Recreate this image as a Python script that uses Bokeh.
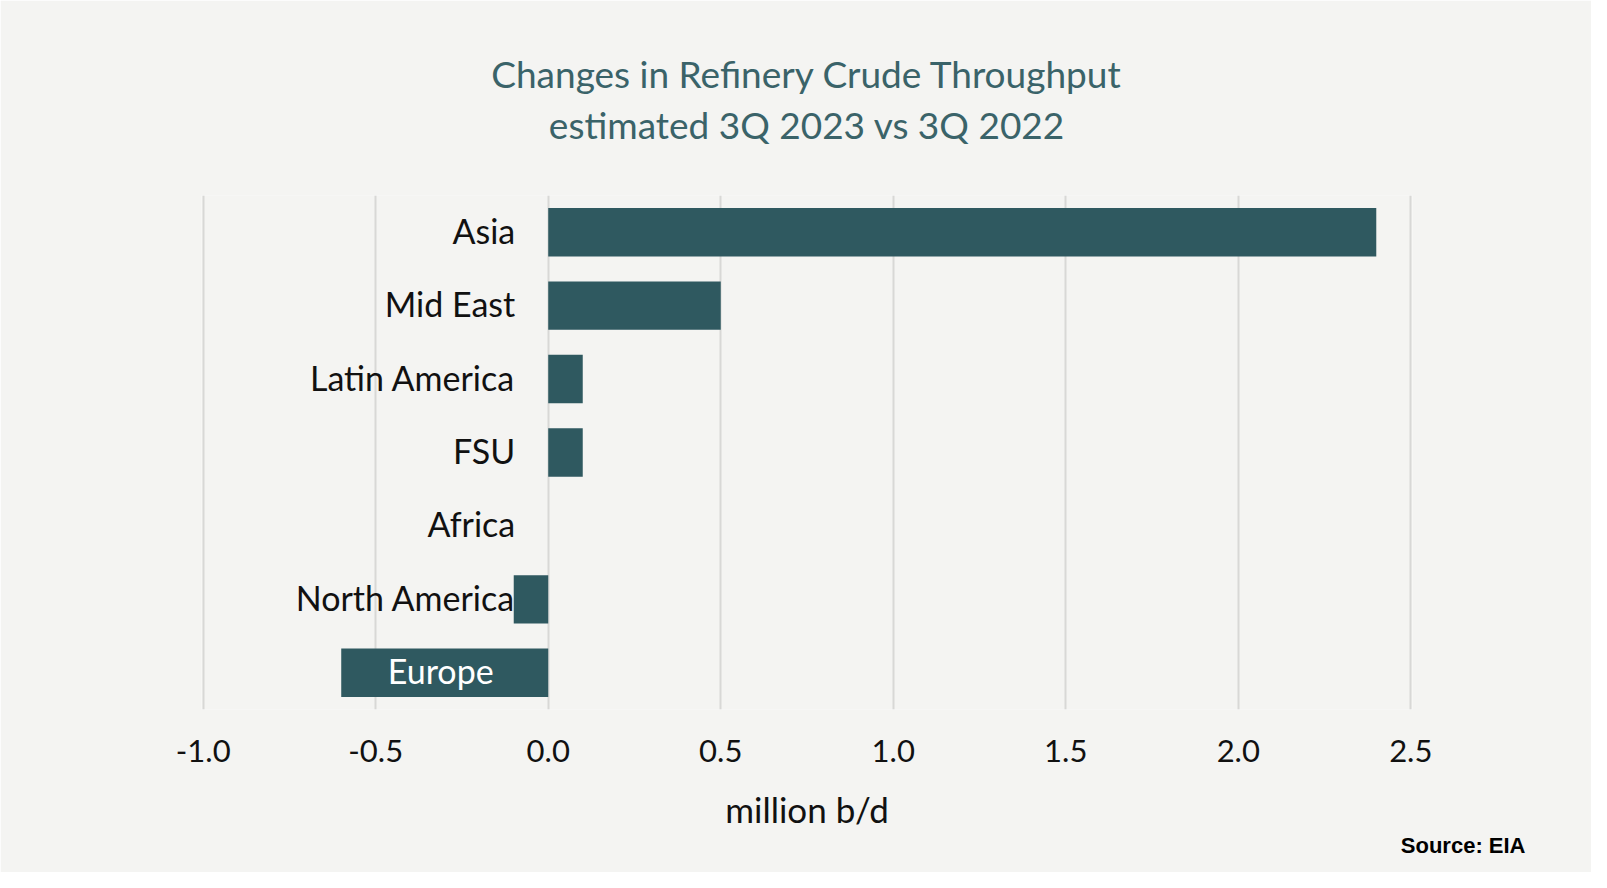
from bokeh.plotting import figure
from bokeh.models import Range1d, Title, FixedTicker, NumeralTickFormatter, ColumnDataSource
from bokeh.core.properties import value
from bokeh.embed import file_html
from bokeh.resources import INLINE

regions = ["Asia", "Mid East", "Latin America", "FSU", "Africa", "North America", "Europe"]
changes = [2.4, 0.5, 0.1, 0.1, 0.0, -0.1, -0.6]
x_ticks = [-1.0, -0.5, 0.0, 0.5, 1.0, 1.5, 2.0, 2.5]
title_lines = ["Changes in Refinery Crude Throughput", "estimated 3Q 2023 vs 3Q 2022"]
x_label = "million b/d"
source_note = "Source: EIA"

BG = "#f4f4f2"
BAR = "#2f5960"
TITLE_C = "#3a6369"
FONT = "Lato"

W, H = 1591, 872
p = figure(width=W, height=H, y_range=list(reversed(regions)), x_range=Range1d(-1.005, 2.505),
           output_backend="svg", toolbar_location=None, y_axis_location=None,
           min_border_left=201, min_border_right=179, min_border_top=195, min_border_bottom=163)
p.background_fill_color = BG
p.border_fill_color = BG
p.outline_line_color = None

src = ColumnDataSource(dict(region=regions, change=changes))
p.hbar(y="region", left=0, right="change", height=0.66, color=BAR, line_color=None, source=src)

# category labels: outside bars at the zero line, or inside (white) for long negative bars
inside = [c <= -0.3 for c in changes]
out_src = ColumnDataSource(dict(region=[r for r, i in zip(regions, inside) if not i],
                                x=[0.0 for i in inside if not i]))
in_src = ColumnDataSource(dict(region=[r for r, i in zip(regions, inside) if i],
                               x=[c / 2 for c, i in zip(changes, inside) if i]))
p.text(x="x", y="region", text="region", source=out_src, x_offset=-33, y_offset=-2,
       text_align="right", text_baseline="middle", text_font=value(FONT),
       text_font_size="34px", text_color="#111111")
p.text(x="x", y="region", text="region", source=in_src, x_offset=-4, y_offset=-2,
       text_align="center", text_baseline="middle", text_font=value(FONT),
       text_font_size="34px", text_color="#ffffff")

p.xgrid.grid_line_color = "#d8d8d6"
p.xgrid.grid_line_width = 2
p.ygrid.grid_line_color = None
p.xgrid.ticker = FixedTicker(ticks=x_ticks)

ax = p.xaxis[0]
ax.ticker = FixedTicker(ticks=x_ticks)
ax.formatter = NumeralTickFormatter(format="0.0")
ax.axis_line_color = None
ax.major_tick_line_color = None
ax.minor_tick_line_color = None
ax.major_label_text_font = FONT
ax.major_label_text_font_size = "31px"
ax.major_label_text_color = "#111111"
ax.major_label_standoff = 24
ax.axis_label = x_label
ax.axis_label_text_font = FONT
ax.axis_label_text_font_style = "normal"
ax.axis_label_text_font_size = "35px"
ax.axis_label_text_color = "#111111"
ax.axis_label_standoff = 23

# above panels stack outward from the plot: spacer, then title line 2, then title line 1
p.add_layout(Title(text=" ", text_font_size="1px", standoff=41), "above")
p.add_layout(Title(text=title_lines[1], align="center", text_font=FONT, text_font_size="37px",
                   text_font_style="normal", text_color=TITLE_C, standoff=9), "above")
p.add_layout(Title(text=title_lines[0], align="center", text_font=FONT, text_font_size="37px",
                   text_font_style="normal", text_color=TITLE_C, standoff=0), "above")

p.add_layout(Title(text=source_note, align="right", offset=-113, vertical_align="top",
                   text_font="Liberation Sans", text_font_style="bold", text_font_size="22px",
                   text_color="#000000", standoff=0), "below")

open("out.html", "w").write(file_html(p, INLINE))
